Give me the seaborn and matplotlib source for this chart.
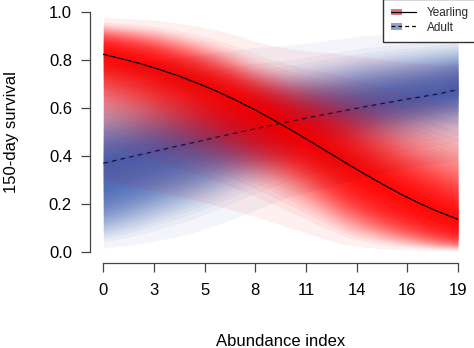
import numpy as np
import pandas as pd
import matplotlib
matplotlib.use("Agg")
import matplotlib.pyplot as plt
import seaborn as sns
from matplotlib.patches import Rectangle
from matplotlib.lines import Line2D
from matplotlib.ticker import FormatStrFormatter
from statistics import NormalDist

# ---------------- data ----------------
abundance = list(range(20))

yearling_mid = [0.822, 0.803, 0.783, 0.759, 0.733, 0.703, 0.671, 0.635, 0.596, 0.554,
                0.510, 0.464, 0.417, 0.370, 0.324, 0.280, 0.238, 0.200, 0.166, 0.136]
yearling_lo = [0.300, 0.285, 0.268, 0.250, 0.232, 0.214, 0.195, 0.172, 0.150, 0.125,
               0.100, 0.075, 0.050, 0.030, 0.020, 0.013, 0.009, 0.006, 0.004, 0.003]
yearling_hi = [0.975, 0.972, 0.968, 0.962, 0.952, 0.940, 0.925, 0.905, 0.880, 0.860,
               0.845, 0.835, 0.830, 0.820, 0.810, 0.800, 0.790, 0.785, 0.780, 0.780]

adult_mid = [0.369, 0.387, 0.405, 0.423, 0.441, 0.458, 0.476, 0.493, 0.510, 0.527,
             0.543, 0.559, 0.574, 0.589, 0.604, 0.618, 0.632, 0.645, 0.658, 0.676]
adult_lo = [0.017, 0.025, 0.035, 0.050, 0.065, 0.085, 0.110, 0.140, 0.170, 0.200,
            0.230, 0.250, 0.270, 0.290, 0.310, 0.330, 0.345, 0.360, 0.370, 0.380]
adult_hi = [0.780, 0.785, 0.790, 0.800, 0.810, 0.820, 0.830, 0.840, 0.850, 0.855,
            0.860, 0.870, 0.880, 0.890, 0.900, 0.905, 0.910, 0.915, 0.920, 0.925]

groups = ["Yearling", "Adult"]
x_tick_labels = ["0", "3", "5", "8", "11", "14", "16", "19"]
y_ticks = [0.0, 0.2, 0.4, 0.6, 0.8, 1.0]

# ---------------- style ----------------
sns.set_theme(style="ticks")
plt.rcParams["font.family"] = ["Liberation Sans", "DejaVu Sans"]

W, H = 474, 348
fig = plt.figure(figsize=(W / 100, H / 100), dpi=100)
x0_px, x1_px, y0_px, y1_px = 103.3, 458.0, 252.0, 11.5
ax = fig.add_axes([x0_px / W, 1 - y0_px / H, (x1_px - x0_px) / W, (y0_px - y1_px) / H])

RED = "#ff0000"
BLUE = "#3f5fb2"
ALPHA = 0.06
levels = np.linspace(0.001, 0.49, 48)
z_outer = NormalDist().inv_cdf(1 - levels[0])


def logit(p):
    p = np.asarray(p, dtype=float)
    return np.log(p / (1 - p))


def expit(z):
    return 1 / (1 + np.exp(-z))


def draw_band(x, lo, mid, hi, color):
    lm, ll, lh = logit(mid), logit(lo), logit(hi)
    for p in levels:
        f = NormalDist().inv_cdf(1 - p) / z_outer
        ax.fill_between(x, expit(lm - f * (lm - ll)), expit(lm + f * (lh - lm)),
                        color=color, alpha=ALPHA, lw=0, zorder=1)


draw_band(abundance, adult_lo, adult_mid, adult_hi, BLUE)
draw_band(abundance, yearling_lo, yearling_mid, yearling_hi, RED)

df = pd.DataFrame({
    "abundance": abundance * 2,
    "survival": yearling_mid + adult_mid,
    "group": [groups[0]] * len(abundance) + [groups[1]] * len(abundance),
})
sns.lineplot(data=df[df.group == "Yearling"], x="abundance", y="survival",
             color="black", lw=0.85, ax=ax, legend=False, zorder=3)
sns.lineplot(data=df[df.group == "Adult"], x="abundance", y="survival",
             color="#111133", lw=0.85, linestyle=(0, (4, 3.5)), ax=ax, legend=False, zorder=3)

ax.set_xlim(0, 19)
ax.set_ylim(0, 1)
ax.set_xlabel("")
ax.set_ylabel("")
ax.set_xticks(np.linspace(0, 19, len(x_tick_labels)))
ax.set_xticklabels(x_tick_labels)
ax.set_yticks(y_ticks)
ax.yaxis.set_major_formatter(FormatStrFormatter("%.1f"))

for s in ["top", "right"]:
    ax.spines[s].set_visible(False)
ax.spines["left"].set_position(("outward", 13.3 * 0.72))
ax.spines["bottom"].set_position(("outward", 10.7 * 0.72))
ax.spines["left"].set_bounds(0, 1)
ax.spines["bottom"].set_bounds(0, 19)
for s in ["left", "bottom"]:
    ax.spines[s].set_color("#444444")
    ax.spines[s].set_linewidth(0.9)
ax.tick_params(axis="both", direction="out", length=6.2, width=0.9, color="#444444",
               labelsize=12, labelcolor="black")
ax.tick_params(axis="x", pad=8.5)
ax.tick_params(axis="y", pad=6.8)

fig.text(12 / W, 1 - 131.7 / H, "150-day survival", rotation=90, ha="center", va="center",
         fontsize=12, color="black")
fig.text(280.7 / W, 1 - 346 / H, "Abundance index", ha="center", va="baseline",
         fontsize=12, color="black")


# ---------------- legend ----------------
class BandKey:
    def __init__(self, color, ls):
        self.color = color
        self.ls = ls


class BandKeyHandler:
    def legend_artist(self, legend, orig_handle, fontsize, handlebox):
        x0, y0 = handlebox.xdescent, handlebox.ydescent
        w, h = handlebox.width, handlebox.height
        tr = handlebox.get_transform()
        rect = Rectangle((x0, y0 + 0.12 * h), 0.42 * w, 0.76 * h,
                         facecolor=orig_handle.color, edgecolor="none", transform=tr)
        line = Line2D([x0, x0 + w], [y0 + h / 2, y0 + h / 2], color="black", lw=0.9,
                      linestyle=orig_handle.ls, transform=tr)
        handlebox.add_artist(rect)
        handlebox.add_artist(line)
        return rect


keys = [BandKey("#e8707a", "-"), BandKey("#8da2cf", (0, (3, 2.5)))]
leg = ax.legend(keys, groups, handler_map={BandKey: BandKeyHandler()},
                loc="upper right", bbox_to_anchor=(477 / W, 1 + 1 / H),
                bbox_transform=fig.transFigure, borderaxespad=0, fontsize=8.5,
                frameon=True, fancybox=False, framealpha=1, edgecolor="#333333",
                borderpad=0.7, labelspacing=0.2, handlelength=2.1, handletextpad=0.9)
leg.get_frame().set_linewidth(1.0)
leg.set_zorder(10)

fig.savefig("out.png", dpi=100)
